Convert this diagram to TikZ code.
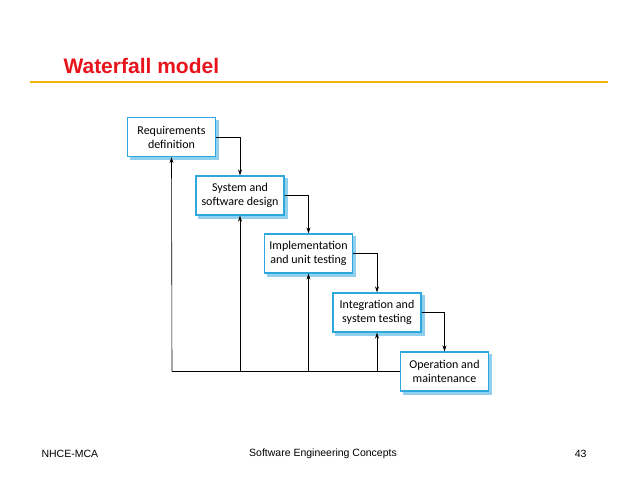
\documentclass[tikz,border=0pt]{standalone}
\usepackage{fontspec}
\setmainfont{Liberation Sans}
\newfontfamily\boxfont{Carlito}
\usetikzlibrary{arrows.meta}
\definecolor{bblue}{HTML}{2EA8DC}
\definecolor{sblue}{HTML}{8FD0EE}
\definecolor{tred}{HTML}{E8141C}
\definecolor{gold}{HTML}{F0B400}
\begin{document}
\begin{tikzpicture}[x=1pt,y=-1pt,
  box/.style={draw=bblue,line width=1.3pt,fill=white,minimum width=88pt,minimum height=39pt,align=center,font=\boxfont\fontsize{12}{14}\selectfont,inner sep=1pt,
    preaction={fill=sblue,draw=sblue,line width=1.3pt,transform canvas={shift={(3pt,-3pt)}}}},
  arr/.style={-{Stealth[length=6pt,width=4pt]},line width=0.6pt}]
\useasboundingbox (0,0) rectangle (638,493);
\node[anchor=west,font=\bfseries\fontsize{21}{24}\selectfont,text=tred] (t) at (60,66) {Waterfall model};
\draw[gold,line width=1.2pt] (30,82) -- (608,82);
\node[box] (b1) at (171.5,137) {Requirements\\definition};
\node[box] (b2) at (240,195.5) {System and\\software design};
\node[box] (b3) at (308.5,253.5) {Implementation\\and unit testing};
\node[box] (b4) at (377,312.5) {Integration and\\system testing};
\node[box] (b5) at (444.5,371.5) {Operation and\\maintenance};
\draw[arr] (b1.east) -| (b2.north);
\draw[arr] (b2.east) -| (b3.north);
\draw[arr] (b3.east) -| (b4.north);
\draw[arr] (b4.east) -| (b5.north);
\coordinate (c1) at (172,371.5);
\draw[line width=0.6pt] (b5.west) -- (c1);
\draw[arr] (c1) -- (b1.south);
\draw[arr] (b2.south|-c1) -- (b2.south);
\draw[arr] (b3.south|-c1) -- (b3.south);
\draw[arr] (b4.south|-c1) -- (b4.south);
\node[anchor=west,font=\fontsize{10.5}{12}\selectfont] (f1) at (38,454) {NHCE-MCA};
\node[font=\fontsize{10.5}{12}\selectfont] (f2) at (323,454) {Software Engineering Concepts};
\node[anchor=east,font=\fontsize{10.5}{12}\selectfont] (f3) at (590,454) {43};
\end{tikzpicture}
\end{document}
